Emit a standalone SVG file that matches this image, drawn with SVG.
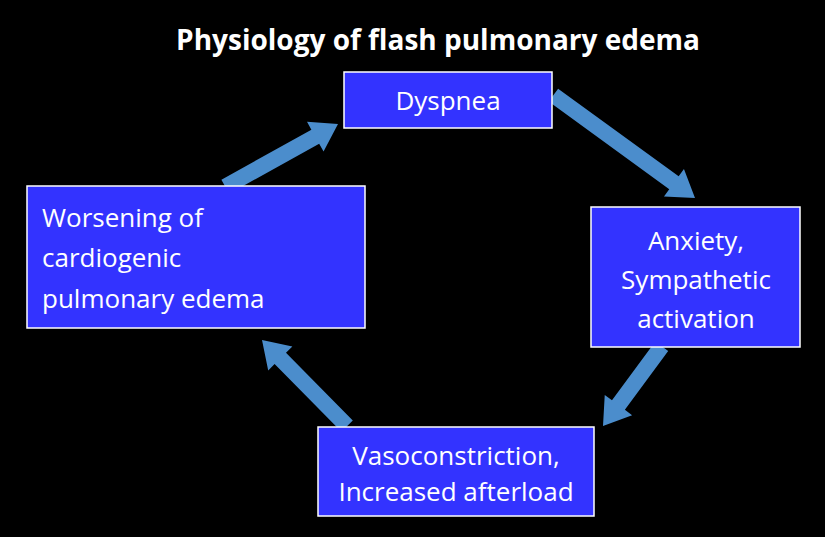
<svg xmlns="http://www.w3.org/2000/svg" width="825" height="537" viewBox="0 0 825 537">
<style>
.box{fill:#3333ff;stroke:#ffffff;stroke-width:1.5}
.t{fill:#fff;font-family:"Open Sans","Liberation Sans",sans-serif;font-size:26px}
.arr{fill:#4b8dcc}
</style>
<defs><polygon id="a" points="0,-8 -26,-8 -26,-17 0,0 0,0 -26,17 -26,8 0,8"/></defs>
<rect width="825" height="537" fill="#000"/>
<text x="438" y="50" text-anchor="middle" style="fill:#fff;font-family:'Open Sans','Liberation Sans',sans-serif;font-size:28px;font-weight:bold">Physiology of flash pulmonary edema</text>
<g id="connectors">
<path class="arr" transform="translate(695,198) rotate(36)" d="M0,0 L-26,-17 L-26,-8 L-175,-8 L-175,8 L-26,8 L-26,17 Z"/>
<path class="arr" transform="translate(603,426) rotate(126.4)" d="M0,0 L-26,-17 L-26,-8 L-99,-8 L-99,8 L-26,8 L-26,17 Z"/>
<path class="arr" transform="translate(262,340) rotate(225.3)" d="M0,0 L-26,-17 L-26,-8 L-121,-8 L-121,8 L-26,8 L-26,17 Z"/>
<path class="arr" transform="translate(338,124) rotate(-29.1)" d="M0,0 L-26,-17 L-26,-8 L-129,-8 L-129,8 L-26,8 L-26,17 Z"/>
</g>
<g id="dyspnea"><rect class="box" x="344" y="72" width="208" height="56"/><text class="t" x="448" y="110" text-anchor="middle">Dyspnea</text></g>
<g id="anxiety"><rect class="box" x="591" y="207" width="209" height="140"/><text class="t" x="696" y="250" text-anchor="middle">Anxiety,</text><text class="t" x="696" y="289" text-anchor="middle">Sympathetic</text><text class="t" x="696" y="328" text-anchor="middle">activation</text></g>
<g id="vaso"><rect class="box" x="318" y="427" width="276" height="89"/><text class="t" x="456" y="465" text-anchor="middle">Vasoconstriction,</text><text class="t" x="456" y="501" text-anchor="middle">Increased afterload</text></g>
<g id="worsening"><rect class="box" x="27" y="186" width="338" height="142"/><text class="t" x="42" y="227">Worsening of</text><text class="t" x="42" y="267">cardiogenic</text><text class="t" x="42" y="308">pulmonary edema</text></g>
</svg>
